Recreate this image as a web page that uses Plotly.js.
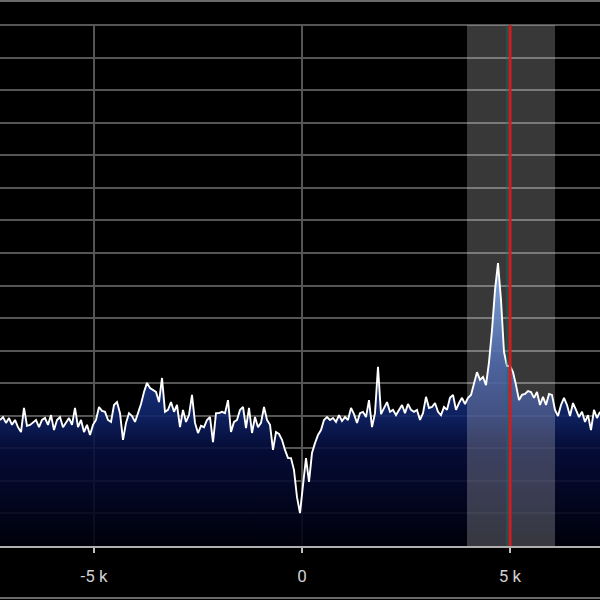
<!DOCTYPE html>
<html>
<head>
<meta charset="utf-8">
<script src="https://cdn.plot.ly/plotly-3.0.1.min.js"></script>
<style>html,body{margin:0;padding:0;background:#000;}#chart{width:600px;height:600px;}</style>
</head>
<body>
<div id="chart"></div>
<script>
// Spectrum levels (dB), one per FFT bin left to right
const levelsDb = [
  -141.3,-140.4,-142.2,-140.7,-142.8,-141.3,-143.5,-145.0,-137.6,-143.1,-142.8,-141.9,-141.3,-143.5,-141.3,-140.7,-142.8,-139.8,-144.4,-141.3,-140.4,-143.5,-142.2,-140.7,-142.8,-137.6,-143.5,-141.3,-145.0,-142.8,-145.9,-142.8,-141.3,-137.3,
  -138.5,-138.8,-141.3,-141.9,-136.7,-135.8,-139.2,-147.4,-142.2,-139.2,-140.1,-141.9,-139.2,-136.4,-132.7,-129.9,-131.5,-132.1,-132.7,-135.8,-128.4,-138.8,-138.2,-135.8,-138.8,-136.7,-143.5,-138.2,-141.9,-139.8,-133.6,-142.2,-145.3,
  -143.1,-143.5,-141.3,-140.4,-148.1,-139.2,-139.2,-138.8,-139.2,-135.2,-145.0,-141.9,-141.3,-138.2,-137.3,-143.8,-137.6,-145.3,-140.4,-143.5,-142.2,-137.3,-141.3,-142.8,-150.5,-145.0,-145.6,-147.4,-150.5,-153.0,-153.0,-156.7,-165.0,-169.9,
  -161.3,-153.0,-160.3,-151.4,-148.4,-145.9,-144.4,-141.3,-140.4,-141.3,-140.7,-141.9,-139.8,-141.6,-140.4,-141.3,-137.6,-139.5,-142.2,-139.2,-138.8,-140.4,-135.2,-143.5,-139.2,-125.0,-139.5,-137.6,-135.8,-138.8,-138.2,-139.8,-138.2,
  -136.7,-139.2,-136.4,-138.2,-138.8,-138.2,-141.3,-139.2,-134.2,-137.6,-137.3,-136.1,-138.8,-139.8,-137.3,-138.2,-134.5,-133.6,-138.2,-136.1,-134.5,-136.4,-134.5,-133.6,-129.6,-126.6,-129.0,-128.1,-130.6,-123.5,-113.7,-101.4,-93.1,
  -104.5,-120.4,-124.7,-124.7,-126.6,-130.6,-135.2,-133.6,-133.3,-132.4,-132.7,-134.5,-132.7,-136.7,-134.2,-136.7,-133.3,-133.6,-138.2,-140.1,-136.7,-134.5,-136.7,-140.1,-136.1,-138.2,-140.4,-138.8,-141.9,-139.8,-144.4,-138.2,-140.7,-138.8
];
const firstBinHz = -7260;
const binWidthHz = 72.115;
const freqRangeHz = [-7260, 7163];
const levelRangeDb = [-180, -20];

const tickValsHz = [-5000, 0, 5000];
const tickTexts = ['-5 k', '0', '5 k'];

const passbandHz = [3966, 6082];
const tunedHz = 5000;
const carrierHz = 4928;

const freqs = levelsDb.map((_, i) => firstBinHz + i * binWidthHz);
const floorDb = levelsDb.map(() => levelRangeDb[0]);

const traces = [
  {x: freqs, y: floorDb, type: 'scatter', mode: 'lines', line: {width: 0, color: 'rgba(0,0,0,0)'}, hoverinfo: 'skip', showlegend: false},
  {x: freqs, y: levelsDb, type: 'scatter', mode: 'lines', fill: 'tonexty',
   line: {color: '#ffffff', width: 1.9},
   fillcolor: 'rgba(16,36,105,0.85)',
   fillgradient: {type: 'vertical', start: -180, stop: -90,
     colorscale: [[0, 'rgba(0,0,12,0.88)'], [0.333, 'rgba(6,14,62,0.88)'], [0.45, 'rgba(16,38,110,0.88)'], [0.62, 'rgba(30,62,145,0.9)'], [1, 'rgba(105,165,235,0.95)']]},
   showlegend: false, hoverinfo: 'skip'}
];

const layout = {
  width: 600, height: 600,
  paper_bgcolor: '#000', plot_bgcolor: '#000',
  margin: {l: 0, r: 0, t: 25, b: 54, pad: 0},
  showlegend: false,
  xaxis: {range: freqRangeHz, tickvals: tickValsHz, ticktext: tickTexts,
    showgrid: true, gridcolor: '#555555', gridwidth: 2, zeroline: false,
    showline: true, linecolor: '#b0b0b0', linewidth: 2,
    ticks: 'outside', ticklen: 5, tickwidth: 2, tickcolor: '#c0c0c0',
    ticklabelstandoff: 9,
    tickfont: {family: 'Roboto, sans-serif', size: 17, color: '#cfcfcf'}},
  yaxis: {range: levelRangeDb, dtick: 10, tick0: -20, showticklabels: false,
    showgrid: true, gridcolor: '#555555', gridwidth: 2, zeroline: false, showline: false, ticks: ''},
  shapes: [
    {type: 'line', xref: 'paper', yref: 'paper', x0: 0, x1: 1, y0: 1, y1: 1,
     line: {color: '#555555', width: 2}, layer: 'below'},
    {type: 'rect', xref: 'x', yref: 'paper', x0: passbandHz[0], x1: passbandHz[1], y0: 0, y1: 1,
     fillcolor: 'rgba(255,255,255,0.22)', line: {width: 0}, layer: 'above'},
    {type: 'line', xref: 'x', yref: 'paper', x0: carrierHz, x1: carrierHz, y0: 0, y1: 1,
     line: {color: 'rgba(0,120,110,0.8)', width: 1}, layer: 'above'},
    {type: 'line', xref: 'x', yref: 'paper', x0: tunedHz, x1: tunedHz, y0: 0, y1: 1,
     line: {color: '#cc1f1f', width: 3}, layer: 'above'},
    {type: 'line', xref: 'paper', yref: 'paper', x0: 0, x1: 1, y0: 1.046, y1: 1.046,
     line: {color: '#6a6a6a', width: 2}, layer: 'above'},
    {type: 'line', xref: 'paper', yref: 'paper', x0: 0, x1: 1, y0: -0.0998, y1: -0.0998,
     line: {color: '#6a6a6a', width: 2}, layer: 'above'}
  ]
};

Plotly.newPlot('chart', traces, layout, {displayModeBar: false, staticPlot: true});
</script>
</body>
</html>
